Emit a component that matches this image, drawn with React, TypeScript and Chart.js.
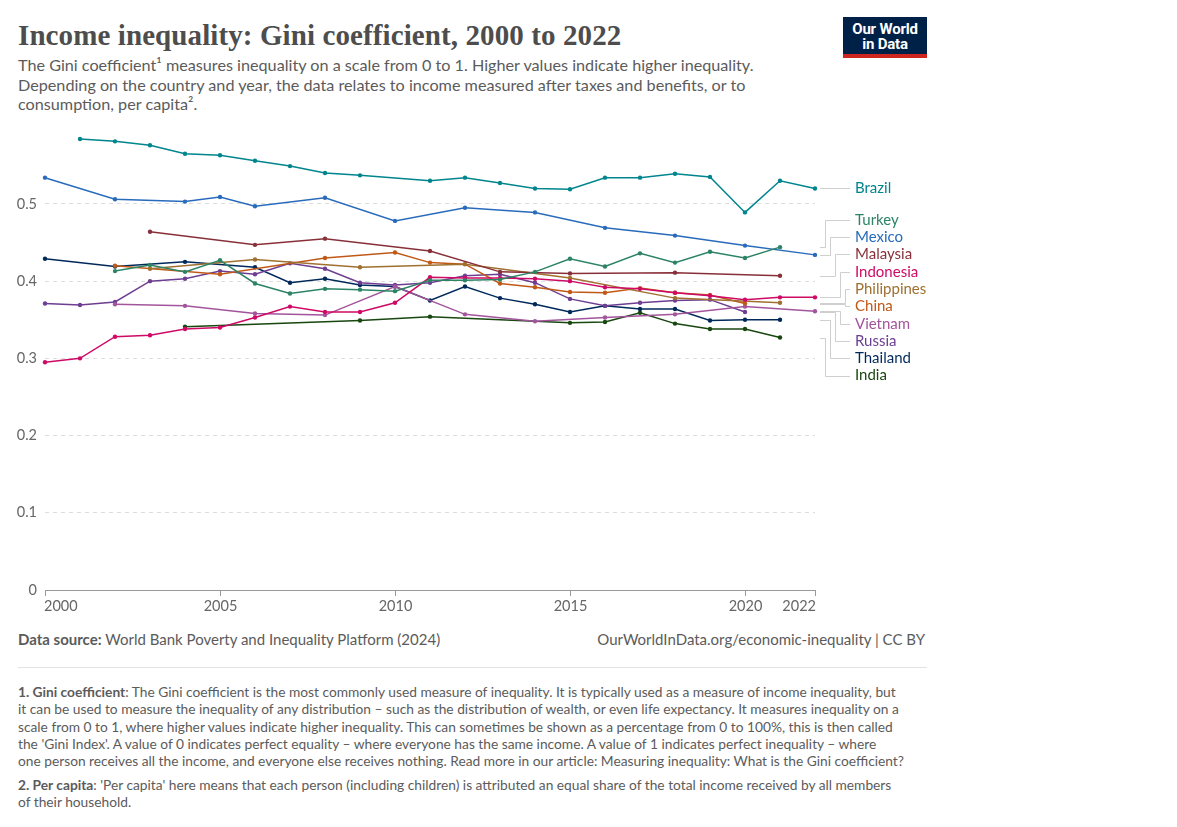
import React, { useEffect, useRef } from "react";
import { Chart, registerables } from "chart.js";

Chart.register(...registerables);

// Gini coefficient by country: survey years and values
const brazilYears = [2001, 2002, 2003, 2004, 2005, 2006, 2007, 2008, 2009, 2011, 2012, 2013, 2014, 2015, 2016, 2017, 2018, 2019, 2020, 2021, 2022];
const brazilGini = [0.584, 0.581, 0.576, 0.565, 0.563, 0.556, 0.549, 0.54, 0.537, 0.53, 0.534, 0.527, 0.52, 0.519, 0.534, 0.534, 0.539, 0.535, 0.489, 0.53, 0.52];

const mexicoYears = [2000, 2002, 2004, 2005, 2006, 2008, 2010, 2012, 2014, 2016, 2018, 2020, 2022];
const mexicoGini = [0.534, 0.506, 0.503, 0.509, 0.497, 0.508, 0.478, 0.495, 0.489, 0.469, 0.459, 0.446, 0.434];

const turkeyYears = [2002, 2003, 2004, 2005, 2006, 2007, 2008, 2009, 2010, 2011, 2012, 2013, 2014, 2015, 2016, 2017, 2018, 2019, 2020, 2021];
const turkeyGini = [0.413, 0.421, 0.412, 0.427, 0.397, 0.384, 0.39, 0.389, 0.387, 0.401, 0.401, 0.402, 0.412, 0.429, 0.419, 0.436, 0.424, 0.438, 0.43, 0.444];

const malaysiaYears = [2003, 2006, 2008, 2011, 2013, 2015, 2018, 2021];
const malaysiaGini = [0.464, 0.447, 0.455, 0.439, 0.412, 0.41, 0.411, 0.407];

const indonesiaYears = [2000, 2001, 2002, 2003, 2004, 2005, 2006, 2007, 2008, 2009, 2010, 2011, 2012, 2013, 2014, 2015, 2016, 2017, 2018, 2019, 2020, 2021, 2022];
const indonesiaGini = [0.295, 0.3, 0.328, 0.33, 0.338, 0.34, 0.353, 0.367, 0.36, 0.36, 0.372, 0.405, 0.404, 0.404, 0.403, 0.4, 0.392, 0.39, 0.385, 0.381, 0.376, 0.379, 0.379];

const philippinesYears = [2003, 2006, 2009, 2012, 2015, 2018, 2021];
const philippinesGini = [0.416, 0.428, 0.418, 0.422, 0.404, 0.378, 0.372];

const chinaYears = [2002, 2005, 2008, 2010, 2011, 2012, 2013, 2014, 2015, 2016, 2017, 2018, 2019, 2020];
const chinaGini = [0.42, 0.409, 0.43, 0.437, 0.424, 0.422, 0.397, 0.392, 0.386, 0.385, 0.391, 0.385, 0.382, 0.371];

const vietnamYears = [2002, 2004, 2006, 2008, 2010, 2012, 2014, 2016, 2018, 2020, 2022];
const vietnamGini = [0.37, 0.368, 0.358, 0.356, 0.393, 0.357, 0.348, 0.353, 0.357, 0.367, 0.361];

const russiaYears = [2000, 2001, 2002, 2003, 2004, 2005, 2006, 2007, 2008, 2009, 2010, 2011, 2012, 2013, 2014, 2015, 2016, 2017, 2018, 2019, 2020];
const russiaGini = [0.371, 0.369, 0.373, 0.4, 0.403, 0.413, 0.409, 0.423, 0.416, 0.398, 0.395, 0.398, 0.407, 0.409, 0.398, 0.377, 0.368, 0.372, 0.375, 0.376, 0.36];

const thailandYears = [2000, 2002, 2004, 2006, 2007, 2008, 2009, 2010, 2011, 2012, 2013, 2014, 2015, 2016, 2017, 2018, 2019, 2020, 2021];
const thailandGini = [0.429, 0.419, 0.425, 0.418, 0.398, 0.403, 0.395, 0.393, 0.375, 0.393, 0.378, 0.37, 0.36, 0.368, 0.364, 0.364, 0.349, 0.35, 0.35];

const indiaYears = [2004, 2009, 2011, 2015, 2016, 2017, 2018, 2019, 2020, 2021];
const indiaGini = [0.341, 0.349, 0.354, 0.346, 0.347, 0.359, 0.345, 0.338, 0.338, 0.327];

const yTicks = [0, 0.1, 0.2, 0.3, 0.4, 0.5];
const xTicks = [2000, 2005, 2010, 2015, 2020, 2022];

const countries = [
  { name: "Brazil", years: brazilYears, values: brazilGini, color: "#00858E" },
  { name: "Turkey", years: turkeyYears, values: turkeyGini, color: "#2C8465" },
  { name: "Mexico", years: mexicoYears, values: mexicoGini, color: "#286BBB" },
  { name: "Malaysia", years: malaysiaYears, values: malaysiaGini, color: "#883039" },
  { name: "Indonesia", years: indonesiaYears, values: indonesiaGini, color: "#CF0A66" },
  { name: "Philippines", years: philippinesYears, values: philippinesGini, color: "#A0702F" },
  { name: "China", years: chinaYears, values: chinaGini, color: "#C05917" },
  { name: "Vietnam", years: vietnamYears, values: vietnamGini, color: "#A2559C" },
  { name: "Russia", years: russiaYears, values: russiaGini, color: "#6D3E91" },
  { name: "Thailand", years: thailandYears, values: thailandGini, color: "#00295B" },
  { name: "India", years: indiaYears, values: indiaGini, color: "#18470F" },
];

const FONT = "Lato, 'Noto Sans', sans-serif";
const TEXT_GREY = "#5b5b5b";
const AXIS_GREY = "#666";

// Draws the x axis, and the end-of-line country labels with their connectors
const decorations = {
  id: "decorations",
  beforeDatasetsDraw(chart: any) {
    const { ctx, chartArea } = chart;
    const xs = chart.scales.x;
    const y0 = chart.scales.y.getPixelForValue(0);
    ctx.save();
    ctx.strokeStyle = "#999";
    ctx.lineWidth = 1;
    ctx.beginPath();
    ctx.moveTo(chartArea.left, Math.round(y0) + 0.5);
    ctx.lineTo(chartArea.right, Math.round(y0) + 0.5);
    ctx.stroke();
    ctx.font = `14.5px ${FONT}`;
    ctx.fillStyle = AXIS_GREY;
    ctx.textBaseline = "middle";
    xTicks.forEach((t, i) => {
      const px = Math.round(xs.getPixelForValue(t)) + 0.5;
      ctx.beginPath();
      ctx.moveTo(px, y0);
      ctx.lineTo(px, y0 + 6);
      ctx.stroke();
      ctx.textAlign = i === 0 ? "left" : i === xTicks.length - 1 ? "right" : "center";
      const tx = i === 0 ? px - 1.5 : i === xTicks.length - 1 ? px + 0.5 : px;
      ctx.fillText(String(t), tx, y0 + 16);
    });
    ctx.restore();
  },
  afterDatasetsDraw(chart: any) {
    const { ctx, chartArea } = chart;
    const ys = chart.scales.y;
    const gap = 17.3;
    const items = countries.map((c) => ({
      name: c.name,
      color: c.color,
      target: ys.getPixelForValue(c.values[c.values.length - 1]),
      y: 0,
    }));
    items.sort((a, b) => a.target - b.target);
    // merge overlapping label groups and spread them evenly around the group's centre
    const centreOf = (members: typeof items) => {
      const t = members.map((m) => m.target);
      const mid = (t[0] + t[t.length - 1]) / 2;
      const n = t.length;
      const median = n % 2 ? t[(n - 1) / 2] : (t[n / 2 - 1] + t[n / 2]) / 2;
      return (mid + median) / 2;
    };
    let clusters = items.map((it) => ({ members: [it], center: it.target }));
    let merged = true;
    while (merged) {
      merged = false;
      for (let i = 0; i < clusters.length - 1; i++) {
        const a = clusters[i];
        const b = clusters[i + 1];
        if (a.center + (a.members.length * gap) / 2 > b.center - (b.members.length * gap) / 2) {
          const members = [...a.members, ...b.members];
          clusters.splice(i, 2, { members, center: centreOf(members) });
          merged = true;
          break;
        }
      }
    }
    clusters.forEach((c) => {
      const top = c.center - (c.members.length * gap) / 2 + gap / 2;
      c.members.forEach((m, k) => (m.y = top + k * gap));
    });

    const startX = chartArea.right + 5;
    const endX = chartArea.right + 35;
    const up = items.filter((m) => m.y < m.target - 0.5);
    const down = items.filter((m) => m.y > m.target + 0.5).reverse();
    const step = (endX - startX - 10) / Math.max(up.length - 1, down.length - 1, 1);
    const elbow = new Map<string, number>();
    up.forEach((m, j) => elbow.set(m.name, startX + 5 + j * step));
    down.forEach((m, j) => elbow.set(m.name, startX + 5 + j * step));

    ctx.save();
    ctx.strokeStyle = "#cfcfcf";
    ctx.lineWidth = 1;
    items.forEach((m) => {
      ctx.beginPath();
      const ex = elbow.get(m.name);
      if (ex === undefined) {
        ctx.moveTo(startX, Math.round(m.target) + 0.5);
        ctx.lineTo(endX, Math.round(m.target) + 0.5);
      } else {
        const x = Math.round(ex) + 0.5;
        ctx.moveTo(startX, Math.round(m.target) + 0.5);
        ctx.lineTo(x, Math.round(m.target) + 0.5);
        ctx.lineTo(x, Math.round(m.y) + 0.5);
        ctx.lineTo(endX, Math.round(m.y) + 0.5);
      }
      ctx.stroke();
    });
    ctx.font = `15px ${FONT}`;
    ctx.textAlign = "left";
    ctx.textBaseline = "middle";
    items.forEach((m) => {
      ctx.fillStyle = m.color;
      ctx.fillText(m.name, endX + 5, m.y);
    });
    ctx.restore();
  },
};

export default function App() {
  const canvasRef = useRef<HTMLCanvasElement | null>(null);

  useEffect(() => {
    if (!canvasRef.current) return;
    const chart = new Chart(canvasRef.current, {
      type: "line",
      data: {
        datasets: countries.map((c) => ({
          label: c.name,
          data: c.years.map((yr, i) => ({ x: yr, y: c.values[i] })),
          borderColor: c.color,
          backgroundColor: c.color,
          borderWidth: 1.5,
          pointRadius: 2.2,
          pointBorderWidth: 0,
          pointHoverRadius: 2.2,
          tension: 0,
          clip: false as any,
        })),
      },
      options: {
        animation: false,
        responsive: false,
        devicePixelRatio: 1,
        layout: { padding: { top: 15, right: 125, bottom: 40, left: 0 } },
        plugins: { legend: { display: false }, tooltip: { enabled: false } },
        scales: {
          x: { type: "linear", min: 2000, max: 2022, display: false },
          y: {
            min: 0,
            max: 0.6,
            afterBuildTicks: (scale: any) => {
              scale.ticks = yTicks.map((v) => ({ value: v }));
            },
            afterFit: (scale: any) => {
              scale.width = 45;
            },
            border: { display: false, dash: [4, 4] },
            grid: {
              drawTicks: false,
              color: (ctx: any) => (ctx.tick && ctx.tick.value === 0 ? "rgba(0,0,0,0)" : "#dddddd"),
              lineWidth: 1,
            },
            ticks: {
              padding: 8,
              color: AXIS_GREY,
              font: { family: FONT, size: 14.5 },
              callback: (v: any) => (v === 0 ? "0" : Number(v).toFixed(1)),
            },
          },
        },
      },
      plugins: [decorations],
    });
    return () => chart.destroy();
  }, []);

  const abs = (s: React.CSSProperties): React.CSSProperties => ({ position: "absolute", ...s });

  return (
    <div style={abs({ left: 0, top: 0, width: 1177, height: 827, background: "#fff", fontFamily: FONT, color: TEXT_GREY })}>
      <div style={abs({ left: 18, top: 17, fontFamily: "'Liberation Serif', 'DejaVu Serif', serif", fontWeight: 700, fontSize: 29, lineHeight: "36px", letterSpacing: 0.1, color: "#4d4d4d", whiteSpace: "nowrap" })}>
        Income inequality: Gini coefficient, 2000 to 2022
      </div>
      <div style={abs({ left: 18, top: 55, fontSize: 16.2, lineHeight: "19.5px", whiteSpace: "nowrap" })}>
        The Gini coefficient¹ measures inequality on a scale from 0 to 1. Higher values indicate higher inequality.
        <br />
        Depending on the country and year, the data relates to income measured after taxes and benefits, or to
        <br />
        consumption, per capita².
      </div>
      <div style={abs({ left: 843, top: 17, width: 84, height: 41, background: "#002147" })}>
        <div style={abs({ left: 0, top: 5, width: 84, textAlign: "center", color: "#fff", fontFamily: "'Liberation Sans Narrow', Roboto, sans-serif", fontWeight: 700, fontSize: 15, lineHeight: "15px", letterSpacing: -0.2 })}>
          Our World
          <br />
          in Data
        </div>
        <div style={abs({ left: 0, top: 37, width: 84, height: 4, background: "#ce261e" })} />
      </div>
      <canvas ref={canvasRef} width={940} height={520} style={abs({ left: 0, top: 110, width: 940, height: 520 })} />
      <div style={abs({ left: 18, top: 630, fontSize: 15, lineHeight: "19px", whiteSpace: "nowrap" })}>
        <b>Data source:</b> World Bank Poverty and Inequality Platform (2024)
      </div>
      <div style={abs({ right: 1177 - 925, top: 630, fontSize: 15, lineHeight: "19px", whiteSpace: "nowrap" })}>
        OurWorldInData.org/economic-inequality | CC BY
      </div>
      <div style={abs({ left: 18, top: 667, width: 909, height: 1, background: "#e3e3e3" })} />
      <div style={abs({ left: 18, top: 683, fontSize: 13.75, lineHeight: "17.3px", whiteSpace: "nowrap" })}>
        <b>1. Gini coefficient</b>: The Gini coefficient is the most commonly used measure of inequality. It is typically used as a measure of income inequality, but
        <br />
        it can be used to measure the inequality of any distribution – such as the distribution of wealth, or even life expectancy. It measures inequality on a
        <br />
        scale from 0 to 1, where higher values indicate higher inequality. This can sometimes be shown as a percentage from 0 to 100%, this is then called
        <br />
        the 'Gini Index'. A value of 0 indicates perfect equality – where everyone has the same income. A value of 1 indicates perfect inequality – where
        <br />
        one person receives all the income, and everyone else receives nothing. Read more in our article: Measuring inequality: What is the Gini coefficient?
      </div>
      <div style={abs({ left: 18, top: 776, fontSize: 13.75, lineHeight: "17.3px", whiteSpace: "nowrap" })}>
        <b>2. Per capita</b>: 'Per capita' here means that each person (including children) is attributed an equal share of the total income received by all members
        <br />
        of their household.
      </div>
    </div>
  );
}
